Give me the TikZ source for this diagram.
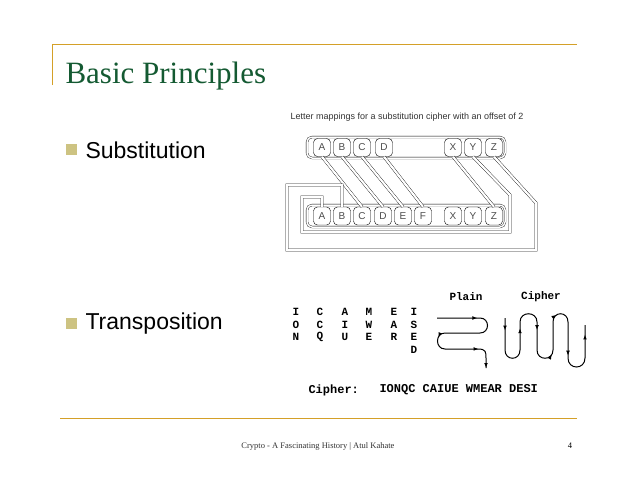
\documentclass[tikz,border=0pt]{standalone}
\usepackage{fontspec}
\setmainfont{Liberation Serif}
\setsansfont{Liberation Sans}
\newfontfamily\mono{Liberation Mono}
\usetikzlibrary{decorations.markings,arrows.meta}
\definecolor{gold}{RGB}{212,160,40}
\definecolor{tgreen}{RGB}{20,90,50}
\definecolor{bul}{RGB}{205,195,130}
\begin{document}
\begin{tikzpicture}[x=1pt,y=-1pt,
 lbox/.style={draw,rounded corners=4pt,minimum width=17pt,minimum height=18pt,inner sep=0pt,font=\sffamily\fontsize{10}{11}\selectfont,text=black!70},
 bar/.style={draw,rounded corners=5pt,double,double distance=1.5pt,line width=0.35pt},
 dl/.style={double,double distance=2.2pt,line width=0.35pt},
 tt/.style={font=\mono\bfseries\fontsize{11}{12}\selectfont},
 flow/.style={line width=1pt,postaction={decorate}},
 mid/.style={decoration={markings,mark=at position #1 with {\arrow{Latex[length=5pt]}}}}]
\useasboundingbox (0,0) rectangle (638,493);
\fill[white] (0,0) rectangle (638,493);
% frame
\draw[gold,line width=1pt] (52,85) -- (52,44) -- (577,44);
\draw[gold,line width=1pt] (60,418) -- (577,418);
\node[anchor=base west,text=tgreen,font=\fontsize{31}{34}\selectfont] (title) at (62,83) {Basic Principles};
\fill[bul] (66,144) rectangle (77,155);
\fill[bul] (66,318) rectangle (77,329);
\node[anchor=west,font=\sffamily\fontsize{23}{26}\selectfont] (sub) at (82,150) {Substitution};
\node[anchor=west,font=\sffamily\fontsize{23}{26}\selectfont] (tra) at (82,324) {Transposition};
\node[font=\fontsize{8.5}{9}\selectfont,text=black!80] (foot) at (318,446) {Crypto - A Fascinating History | Atul Kahate};
\node[font=\fontsize{8.5}{9}\selectfont] (pg) at (570,446) {4};
% substitution figure
\node[font=\sffamily\fontsize{9}{10}\selectfont,text=black!80] (cap) at (407,117) {Letter mappings for a substitution cipher with an offset of 2};
\draw[bar] (307,137) rectangle (505,158);
\draw[bar] (307,205) rectangle (505,227);
\foreach \n/\x in {A/322,B/342,C/362,D/384,X/453,Y/473,Z/494}
  \node[lbox] (t\n) at (\x,147.5) {\n};
\foreach \n/\x in {A/322,B/342,C/362,D/383,E/403,F/423,X/453,Y/473,Z/494}
  \node[lbox] (b\n) at (\x,216) {\n};
\draw[dl] (tA.south) -- (bC.north);
\draw[dl] (tB.south) -- (bD.north);
\draw[dl] (tC.south) -- (bE.north);
\draw[dl] (tD.south) -- (bF.north);
\draw[dl] (tX.south) -- (bZ.north);
\draw[dl] (tY.south) -- (510,195) -- (510,232) -- (302,232) -- (302,197) -- (bA.north |- 0,197) -- (bA.north);
\draw[dl] (tZ.south) -- (536,203) -- (536,250) -- (287,250) -- (287,185) -- (bB.north |- 0,185) -- (bB.north);
% transposition
\foreach \r/\y/\row in {1/312/{I,C,A,M,E,I},2/324.5/{O,C,I,W,A,S},3/337/{N,Q,U,E,R,E}}{
  \foreach \c [count=\i] in \row {
    \pgfmathsetmacro\xx{{296,320,345,369,394,414}[\i-1]}
    \node[tt] (g\r\i) at (\xx,\y) {\c};
  }
}
\node[tt] (g46) at (414,349.5) {D};
\node[tt] (plain) at (466,297) {Plain};
\node[tt] (ciph) at (541,297) {Cipher};
\draw[flow,mid=0.22,mid=0.6,mid=0.87,mid=1] (437,318) -- (480,318) .. controls (490,318) and (490,333) .. (480,333) -- (445,333) .. controls (435,333) and (435,349) .. (445,349) -- (478,349) .. controls (486,349) and (486,352) .. (486,358) -- (486,368);
\draw[flow,mid=0.04,mid=0.25,mid=0.38,mid=0.51,mid=0.64,mid=0.8,mid=0.97] (505,318) -- (505,350) .. controls (505,361) and (520,361) .. (520,350) -- (520,322) .. controls (520,311) and (537,311) .. (537,322) -- (537,350) .. controls (537,361) and (553,361) .. (553,350) -- (553,322) .. controls (553,311) and (568,311) .. (568,322) -- (568,358) .. controls (568,370) and (585,370) .. (585,358) -- (585,325);
\node[tt,anchor=west,font=\mono\bfseries\fontsize{12}{13}\selectfont] (cl) at (305,390) {Cipher:};
\node[tt,anchor=west,font=\mono\bfseries\fontsize{12}{13}\selectfont] (ct) at (376,390) {IONQC CAIUE WMEAR DESI};
\end{tikzpicture}
\end{document}
